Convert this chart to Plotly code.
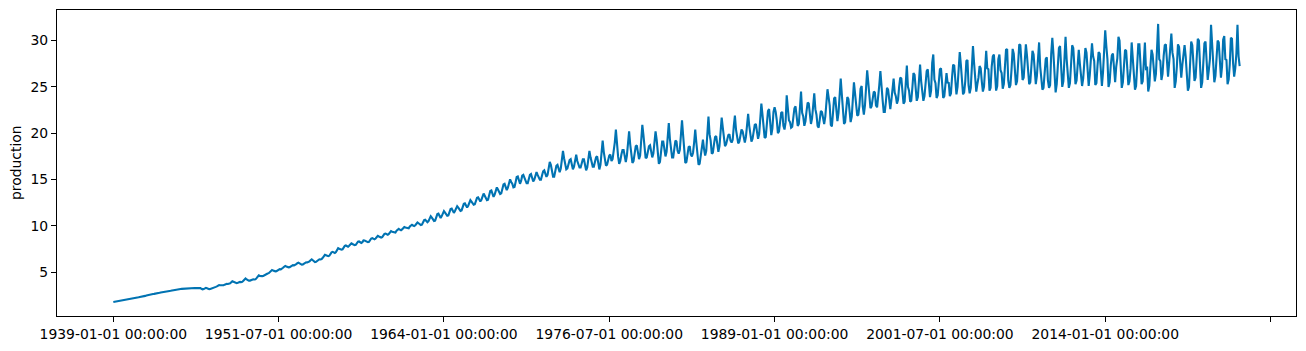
import pandas as pd
import plotly.graph_objects as go

# Monthly production values (1939-01 .. 2024-03)
production_1930s = [1.78, 1.80, 1.82, 1.84, 1.86, 1.88, 1.90, 1.93, 1.95, 1.97, 1.99, 2.02]
production_1940s = [
    2.05, 2.06, 2.07, 2.09, 2.10, 2.13, 2.16, 2.19, 2.21, 2.23, 2.26, 2.30,
    2.34, 2.35, 2.36, 2.38, 2.41, 2.45, 2.49, 2.53, 2.56, 2.58, 2.61, 2.64,
    2.66, 2.67, 2.68, 2.69, 2.71, 2.74, 2.78, 2.82, 2.85, 2.87, 2.90, 2.93,
    2.96, 2.96, 2.97, 2.98, 3.00, 3.03, 3.07, 3.10, 3.12, 3.14, 3.16, 3.18,
    3.20, 3.20, 3.21, 3.22, 3.24, 3.26, 3.29, 3.31, 3.30, 3.29, 3.28, 3.30,
    3.32, 3.31, 3.30, 3.29, 3.28, 3.30, 3.33, 3.30, 3.22, 3.15, 3.18, 3.26,
    3.32, 3.28, 3.22, 3.18, 3.20, 3.26, 3.33, 3.38, 3.40, 3.42, 3.47, 3.55,
    3.62, 3.60, 3.58, 3.57, 3.60, 3.66, 3.72, 3.75, 3.74, 3.73, 3.80, 3.92,
    4.03, 3.98, 3.92, 3.86, 3.82, 3.86, 3.92, 3.96, 3.94, 3.96, 4.08, 4.22,
    4.32, 4.22, 4.14, 4.10, 4.10, 4.16, 4.20, 4.24, 4.22, 4.24, 4.36, 4.52,
]
production_1950s = [
    4.67, 4.60, 4.56, 4.58, 4.60, 4.68, 4.76, 4.84, 4.86, 4.90, 5.00, 5.14,
    5.25, 5.18, 5.12, 5.10, 5.12, 5.20, 5.28, 5.34, 5.32, 5.36, 5.48, 5.60,
    5.68, 5.62, 5.56, 5.53, 5.55, 5.62, 5.70, 5.76, 5.74, 5.78, 5.88, 5.98,
    6.03, 5.96, 5.88, 5.82, 5.84, 5.92, 6.02, 6.08, 6.06, 6.08, 6.18, 6.30,
    6.39, 6.30, 6.18, 6.10, 6.12, 6.22, 6.34, 6.40, 6.38, 6.42, 6.56, 6.72,
    6.88, 6.83, 6.78, 6.73, 6.78, 6.98, 7.15, 7.20, 7.13, 7.08, 7.18, 7.38,
    7.60, 7.54, 7.49, 7.44, 7.48, 7.68, 7.84, 7.89, 7.81, 7.76, 7.86, 8.05,
    8.12, 8.05, 7.98, 7.92, 7.95, 8.13, 8.29, 8.32, 8.23, 8.17, 8.25, 8.43,
    8.42, 8.36, 8.30, 8.25, 8.29, 8.48, 8.64, 8.68, 8.60, 8.55, 8.64, 8.83,
    8.92, 8.86, 8.80, 8.75, 8.79, 8.98, 9.14, 9.18, 9.10, 9.05, 9.14, 9.33,
]
production_1960s = [
    9.44, 9.38, 9.32, 9.26, 9.29, 9.48, 9.64, 9.68, 9.59, 9.53, 9.62, 9.81,
    9.89, 9.83, 9.77, 9.71, 9.74, 9.93, 10.09, 10.13, 10.04, 9.98, 10.07, 10.26,
    10.37, 10.29, 10.20, 10.10, 10.14, 10.38, 10.62, 10.66, 10.50, 10.40, 10.52, 10.78,
    11.05, 10.89, 10.74, 10.54, 10.58, 10.93, 11.27, 11.32, 11.06, 10.86, 11.06, 11.40,
    11.60, 11.44, 11.29, 11.09, 11.13, 11.48, 11.82, 11.87, 11.61, 11.41, 11.61, 11.95,
    12.13, 11.98, 11.83, 11.63, 11.68, 12.03, 12.38, 12.43, 12.18, 11.98, 12.18, 12.53,
    12.78, 12.63, 12.48, 12.28, 12.33, 12.68, 13.03, 13.08, 12.83, 12.63, 12.83, 13.18,
    13.50, 13.26, 13.06, 12.77, 12.82, 13.27, 13.78, 13.83, 13.44, 13.14, 13.39, 13.90,
    14.16, 13.92, 13.73, 13.44, 13.51, 13.97, 14.48, 14.54, 14.16, 13.87, 14.13, 14.64,
    15.03, 14.74, 14.55, 14.16, 14.21, 14.72, 15.28, 15.34, 14.90, 14.55, 14.86, 15.42,
]
production_1970s = [
    15.5, 15.2, 14.9, 14.6, 14.6, 15.0, 15.5, 15.6, 15.1, 14.8, 15.0, 15.5,
    15.8, 15.5, 15.3, 15.0, 15.0, 15.5, 15.9, 16.0, 15.6, 15.3, 15.5, 16.1,
    16.9, 16.6, 16.0, 15.3, 15.3, 15.9, 16.5, 16.6, 16.0, 15.8, 16.2, 17.1,
    18.1, 17.3, 16.6, 16.1, 16.2, 16.8, 17.1, 17.2, 16.6, 16.1, 16.4, 17.0,
    17.7, 17.0, 16.7, 16.3, 16.3, 16.7, 17.2, 17.2, 16.5, 16.0, 16.3, 17.1,
    18.1, 17.4, 17.0, 16.4, 16.4, 16.9, 17.4, 17.5, 16.7, 16.1, 16.6, 17.8,
    19.2, 18.0, 17.3, 16.5, 16.6, 17.2, 17.6, 17.7, 17.0, 17.2, 17.9, 19.0,
    20.4, 18.6, 17.5, 16.7, 17.0, 17.7, 18.2, 18.2, 17.4, 16.9, 17.6, 18.9,
    20.2, 18.8, 17.6, 16.8, 17.0, 17.9, 18.6, 18.7, 17.8, 17.2, 17.6, 19.1,
    20.9, 19.8, 18.0, 17.3, 17.4, 18.0, 18.6, 18.7, 17.9, 17.4, 17.8, 18.9,
]
production_1980s = [
    20.2, 19.3, 18.3, 16.7, 16.9, 17.8, 19.1, 19.1, 18.0, 17.5, 18.0, 19.6,
    21.1, 19.4, 18.2, 17.4, 17.4, 18.3, 19.2, 19.1, 18.1, 17.8, 18.2, 19.8,
    21.4, 19.8, 18.1, 16.8, 16.9, 17.5, 18.5, 18.6, 17.7, 17.5, 17.9, 19.0,
    20.4, 19.0, 17.8, 16.6, 16.7, 17.6, 18.9, 19.3, 18.3, 17.6, 18.1, 20.2,
    21.8, 19.9, 19.2, 17.8, 17.9, 18.8, 19.6, 19.7, 18.6, 18.0, 18.6, 19.8,
    21.7, 20.6, 19.4, 18.6, 18.8, 19.3, 19.8, 19.9, 19.2, 19.0, 19.3, 20.8,
    21.9, 20.4, 19.5, 18.9, 19.1, 19.8, 20.4, 20.2, 19.4, 19.0, 19.6, 20.8,
    22.1, 20.8, 19.9, 19.1, 19.4, 20.0, 20.9, 21.0, 19.8, 19.4, 19.9, 21.4,
    23.2, 22.0, 20.8, 19.5, 19.6, 21.0, 22.4, 22.6, 20.7, 19.8, 20.5, 22.3,
    22.8, 22.3, 21.4, 20.0, 20.2, 21.0, 22.2, 22.3, 20.8, 20.4, 21.2, 24.1,
]
production_1990s = [
    22.6, 21.4, 21.2, 20.6, 20.7, 21.6, 22.7, 22.9, 21.5, 20.8, 21.0, 22.8,
    24.5, 22.2, 21.8, 20.8, 21.3, 22.4, 23.3, 23.2, 21.7, 21.0, 21.6, 23.0,
    24.3, 22.6, 22.0, 20.8, 20.6, 21.5, 22.4, 22.3, 21.4, 21.0, 21.8, 23.5,
    24.75, 23.9, 23.0, 20.9, 20.75, 22.2, 23.75, 23.9, 22.0, 21.3, 22.2, 24.0,
    25.9, 24.2, 22.8, 21.0, 21.2, 22.8, 23.9, 23.7, 21.9, 21.2, 21.8, 23.6,
    25.5, 24.3, 22.9, 21.9, 22.0, 23.0, 24.8, 25.1, 22.9, 22.0, 23.0, 25.0,
    26.8, 25.5, 24.4, 22.7, 22.9, 23.6, 24.5, 24.4, 23.0, 22.8, 23.8, 25.2,
    26.7, 24.6, 23.6, 22.3, 22.3, 23.4, 24.9, 24.7, 23.4, 22.6, 23.6, 25.2,
    25.9, 24.4, 24.0, 23.2, 23.6, 25.0, 26.0, 25.9, 24.4, 23.2, 23.4, 24.9,
    27.3, 25.0, 24.6, 23.4, 23.5, 24.9, 26.5, 26.3, 24.3, 23.5, 23.9, 25.8,
]
production_2000s = [
    27.4, 25.6, 24.6, 23.5, 24.0, 25.6, 26.7, 26.9, 24.9, 23.9, 24.6, 27.6,
    28.5, 25.8, 25.4, 23.8, 24.1, 25.6, 26.9, 27.0, 24.6, 23.8, 24.0, 25.5,
    26.5, 25.4, 25.5, 24.0, 24.3, 26.0, 27.4, 27.3, 25.6, 24.2, 25.0, 27.0,
    28.75, 27.4, 25.6, 24.2, 24.4, 25.6, 27.8, 27.9, 25.2, 24.3, 24.9, 27.2,
    29.4, 27.6, 25.8, 24.5, 25.3, 26.0, 27.25, 27.0, 25.6, 24.5, 25.0, 27.6,
    28.9, 27.0, 26.9, 24.6, 24.9, 27.2, 28.3, 28.5, 26.4, 24.6, 25.1, 28.0,
    28.5, 26.8, 26.5, 24.8, 25.3, 27.0, 29.0, 29.1, 25.7, 24.9, 25.2, 26.9,
    29.1, 28.6, 26.6, 25.2, 25.6, 27.6, 29.6, 29.5, 27.3, 25.75, 26.0, 28.2,
    29.6, 28.4, 27.0, 25.3, 25.5, 27.4, 28.9, 28.5, 26.2, 25.3, 26.2, 28.5,
    29.8, 27.2, 26.2, 24.7, 24.9, 26.6, 28.0, 28.2, 25.7, 24.9, 25.2, 28.6,
]
production_2010s = [
    30.3, 28.6, 26.1, 24.4, 25.3, 28.0, 29.2, 29.4, 26.6, 25.0, 25.6, 28.9,
    30.4, 28.0, 26.7, 24.9, 25.4, 27.5, 29.5, 29.2, 26.3, 25.3, 25.7, 27.8,
    29.0, 27.5, 25.7, 25.1, 25.9, 27.4, 29.2, 28.7, 26.2, 25.1, 26.3, 27.9,
    29.7, 28.3, 27.8, 25.2, 25.4, 27.3, 28.75, 28.6, 26.5, 25.1, 26.6, 29.5,
    31.1, 29.4, 28.0, 25.0, 25.5, 27.3, 28.4, 28.6, 26.4, 25.5, 27.2, 28.1,
    30.4, 30.0, 27.4, 24.9, 25.5, 27.6, 29.0, 28.9, 27.0, 25.2, 25.6, 27.0,
    29.8, 27.7, 25.6, 24.7, 25.1, 27.6, 29.6, 29.6, 27.0, 25.3, 25.6, 28.6,
    29.8, 26.8, 27.2, 24.5, 25.1, 27.2, 29.0, 28.5, 26.3, 25.6, 26.4, 29.4,
    31.8, 28.0, 27.8, 25.75, 26.4, 28.3, 29.5, 29.6, 27.6, 26.1, 27.6, 29.0,
    30.75, 28.7, 28.0, 24.9, 25.6, 27.2, 29.6, 29.3, 27.4, 26.0, 27.4, 28.8,
]
production_2020s = [
    29.5, 28.3, 26.3, 24.6, 25.0, 27.6, 29.9, 29.5, 26.6, 25.65, 26.0, 29.0,
    30.2, 30.0, 26.5, 24.9, 25.5, 28.3, 29.7, 29.9, 27.1, 25.75, 26.8, 28.0,
    31.7, 29.2, 27.4, 25.5, 26.2, 28.3, 30.0, 29.8, 27.3, 26.0, 27.2, 30.1,
    30.5, 28.0, 27.9, 25.3, 25.8, 27.4, 30.3, 30.2, 27.6, 26.1, 27.0, 28.6,
    31.7, 28.3, 27.25,
]

production = (production_1930s + production_1940s + production_1950s + production_1960s
              + production_1970s + production_1980s + production_1990s
              + production_2000s + production_2010s + production_2020s)

dates = pd.date_range("1939-01-01", periods=len(production), freq="MS")
date_labels = [d.strftime("%Y-%m-%d %H:%M:%S") for d in dates]
positions = list(range(len(production)))

# x tick labels (every 150th category; last tick has no label)
tick_step = 150
tick_positions = list(range(0, len(production) + tick_step, tick_step))
tick_labels = [date_labels[p] if p < len(date_labels) else "" for p in tick_positions]
y_ticks = [5, 10, 15, 20, 25, 30]

n = len(production) - 1
x_range = [-0.05 * n, n * 1.05]
ymin, ymax = min(production), max(production)
pad = 0.05 * (ymax - ymin)
y_range = [ymin - pad, ymax + pad]

FONT = "DejaVu Sans, Liberation Sans, sans-serif"

fig = go.Figure(
    go.Scatter(
        x=positions,
        y=production,
        mode="lines",
        line=dict(color="#0173b2", width=2.1),
        customdata=date_labels,
        hovertemplate="%{customdata}<br>production=%{y}<extra></extra>",
    )
)

axis_common = dict(
    showgrid=False,
    zeroline=False,
    showline=True,
    linecolor="black",
    linewidth=1.1,
    mirror=True,
    ticks="outside",
    ticklen=5,
    tickwidth=1.1,
    tickcolor="black",
    tickfont=dict(family=FONT, size=13.9, color="black"),
)

fig.update_layout(
    width=1306,
    height=351,
    margin=dict(l=57, r=10, t=9, b=34),
    paper_bgcolor="white",
    plot_bgcolor="white",
    showlegend=False,
    font=dict(family=FONT, size=13.9, color="black"),
    xaxis=dict(range=x_range, tickmode="array", tickvals=tick_positions,
               ticktext=tick_labels, **axis_common),
    yaxis=dict(range=y_range, tickmode="array", tickvals=y_ticks,
               ticktext=[str(v) for v in y_ticks], **axis_common),
    annotations=[
        dict(text="production", textangle=-90, showarrow=False,
             xref="paper", yref="paper", x=(16 - 57) / 1239, y=0.5,
             xanchor="center", yanchor="middle",
             font=dict(family=FONT, size=13.9, color="black"))
    ],
)

fig.write_html("out.html")
